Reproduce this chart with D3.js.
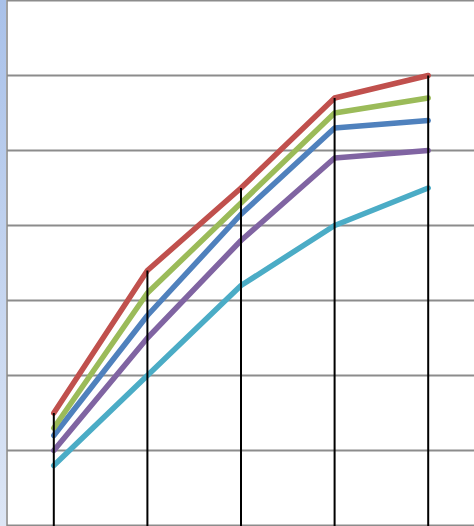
<!DOCTYPE html>
<html>
<head>
<meta charset="utf-8">
<script src="https://cdn.jsdelivr.net/npm/d3@7"></script>
<style>
  html, body { margin: 0; padding: 0; background: #fff; overflow: hidden; }
  svg { display: block; }
</style>
</head>
<body>
<svg id="chart"></svg>
<script>
const w = 474;
const h = 526;

// categories (labels are cropped out of the reference)
const categories = ['1', '2', '3', '4', '5'];

// series values, top line to bottom line
const redValues = [1.5, 3.4, 4.5, 5.7, 6.0];
const greenValues = [1.3, 3.1, 4.3, 5.5, 5.7];
const blueValues = [1.2, 2.8, 4.15, 5.3, 5.4];
const purpleValues = [1.0, 2.5, 3.8, 4.9, 5.0];
const cyanValues = [0.8, 2.0, 3.2, 4.0, 4.5];

const yTicks = [0, 1, 2, 3, 4, 5, 6, 7];

const series = [
	{ name: 'red', values: redValues, color: '#c0504d' },
	{ name: 'green', values: greenValues, color: '#9bbb59' },
	{ name: 'blue', values: blueValues, color: '#4f81bd' },
	{ name: 'purple', values: purpleValues, color: '#8064a2' },
	{ name: 'cyan', values: cyanValues, color: '#4bacc6' },
];

const left = 7;

let canvas = d3.select('#chart').attr('width', w).attr('height', h);

let xScale = d3.scalePoint().domain(categories).range([left, 475]).padding(0.5);
let yScale = d3.scaleLinear().domain([0, 7]).range([525.5, 0.5]);

// left strip (axis area)
let grad = canvas.append('defs').append('linearGradient')
	.attr('id', 'strip').attr('x1', 0).attr('y1', 0).attr('x2', 0).attr('y2', 1);
grad.append('stop').attr('offset', '0%').attr('stop-color', '#a9c1e9');
grad.append('stop').attr('offset', '100%').attr('stop-color', '#dde6f5');
canvas.append('rect')
	.attr('x', 0).attr('y', 0).attr('width', left - 1).attr('height', h)
	.attr('fill', 'url(#strip)');

// gridlines
canvas.append('g')
	.selectAll('line')
	.data(yTicks)
	.enter()
	.append('line')
	.attr('x1', left)
	.attr('x2', w)
	.attr('y1', (d) => yScale(d))
	.attr('y2', (d) => yScale(d))
	.attr('stroke', '#8c8c8c')
	.attr('stroke-width', 2);

// value axis line
canvas.append('line')
	.attr('x1', left).attr('x2', left)
	.attr('y1', 0).attr('y2', h)
	.attr('stroke', '#8a8a8a')
	.attr('stroke-width', 1.6);

// series lines
const line = d3.line()
	.x((d, i) => xScale(categories[i]))
	.y((d) => yScale(d));

canvas.append('g')
	.selectAll('path')
	.data(series.slice().reverse())
	.enter()
	.append('path')
	.attr('d', (s) => line(s.values))
	.attr('fill', 'none')
	.attr('stroke', (s) => s.color)
	.attr('stroke-width', 5.5)
	.attr('stroke-linejoin', 'round')
	.attr('stroke-linecap', 'round');

// drop lines from the highest point down to the axis
canvas.append('g')
	.selectAll('line')
	.data(categories)
	.enter()
	.append('line')
	.attr('x1', (d) => xScale(d))
	.attr('x2', (d) => xScale(d))
	.attr('y1', (d, i) => yScale(d3.max(series, (s) => s.values[i])))
	.attr('y2', yScale(0) + 2)
	.attr('stroke', '#000')
	.attr('stroke-width', 2);
</script>
</body>
</html>
